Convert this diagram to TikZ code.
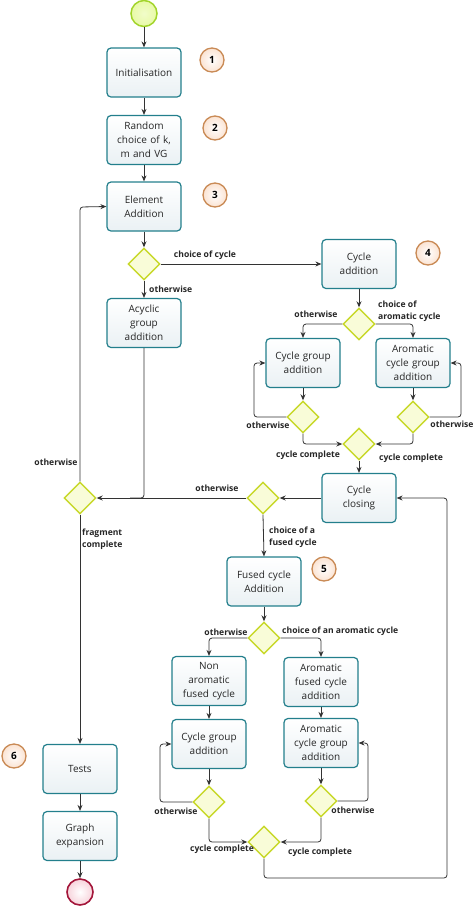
\documentclass[tikz,border=0pt]{standalone}
\usepackage{fontspec}
\setmainfont{Open Sans}
\usetikzlibrary{shapes.geometric,arrows.meta,positioning}
\definecolor{boxline}{HTML}{237F8C}
\definecolor{boxfill}{HTML}{EAF1F4}
\definecolor{dialine}{HTML}{C8D82A}
\definecolor{diafill}{HTML}{F9FCD8}
\definecolor{startline}{HTML}{A2D42A}
\definecolor{startfill}{HTML}{E8FAA6}
\definecolor{endline}{HTML}{A3163A}
\definecolor{endfill}{HTML}{F7D3DB}
\definecolor{badgeline}{HTML}{C98A55}
\definecolor{badgefill}{HTML}{FBE3D2}
\definecolor{conn}{HTML}{333333}
\tikzset{
  x=1pt, y=-1pt,
  taskbox/.style={draw=boxline, line width=1.2pt, rounded corners=4pt,
    top color=white, bottom color=boxfill, minimum width=74pt, minimum height=49pt,
    text width=70pt, align=center, inner sep=1pt, text=black!85,
    font=\fontsize{10}{14}\selectfont},
  gate/.style={diamond, draw=dialine, line width=1.4pt, fill=diafill,
    minimum width=32pt, minimum height=32pt, inner sep=0pt},
  badge/.style={circle, draw=badgeline, line width=1.3pt, inner color=white, outer color=badgefill,
    minimum size=24pt, inner sep=0pt, font=\bfseries\fontsize{10}{12}\selectfont},
  lab/.style={font=\bfseries\fontsize{8.6}{12}\selectfont, text=black!85, inner sep=0pt},
  flow/.style={draw=conn, line width=0.8pt, rounded corners=3pt, -{Stealth[length=6pt,width=5pt]}},
  plain/.style={draw=conn, line width=0.8pt, rounded corners=3pt},
}
\begin{document}
\begin{tikzpicture}
\useasboundingbox (0,0) rectangle (474,906);
% events
\node[circle, draw=startline, line width=1.5pt, inner color=white!40!startfill, outer color=startfill, minimum size=26pt, inner sep=0pt] (start) at (144,13.5) {};
\node[circle, draw=endline, line width=1.6pt, inner color=white, outer color=endfill, minimum size=26pt, inner sep=0pt] (end) at (80,892) {};
% tasks
\node[taskbox] (init) at (144,72.5) {Initialisation};
\node[taskbox] (rand) at (144,140) {Random\\choice of k,\\m and VG};
\node[taskbox] (elem) at (144,206.5) {Element\\Addition};
\node[taskbox] (acyc) at (144,323) {Acyclic\\group\\addition};
\node[taskbox] (cyc) at (359,264) {Cycle\\addition};
\node[taskbox] (cga) at (303,363) {Cycle group\\addition};
\node[taskbox] (acga) at (413,363) {Aromatic\\cycle group\\addition};
\node[taskbox] (close) at (359,498) {Cycle\\closing};
\node[taskbox] (fused) at (264,581.5) {Fused cycle\\Addition};
\node[taskbox] (naf) at (209,681) {Non\\aromatic\\fused cycle};
\node[taskbox] (afa) at (321,682) {Aromatic\\fused cycle\\addition};
\node[taskbox] (cgb) at (209,744) {Cycle group\\addition};
\node[taskbox] (acgb) at (321,743) {Aromatic\\cycle group\\addition};
\node[taskbox] (tests) at (80,769) {Tests};
\node[taskbox] (graph) at (80,836) {Graph\\expansion};
% gateways
\node[gate] (d1) at (144,264) {};
\node[gate] (d2) at (359,324) {};
\node[gate] (d3) at (303,417) {};
\node[gate] (d4) at (413,417) {};
\node[gate] (d5) at (359,444) {};
\node[gate] (d6) at (263,498) {};
\node[gate] (d7) at (80,498) {};
\node[gate] (d8) at (264,638) {};
\node[gate] (d9) at (209,802) {};
\node[gate] (d10) at (321,801) {};
\node[gate] (d11) at (264,842) {};
% badges
\node[badge] (b1) at (212,60) {1};
\node[badge] (b2) at (215,128) {2};
\node[badge] (b3) at (215,195) {3};
\node[badge] (b4) at (428,253) {4};
\node[badge] (b5) at (324,569) {5};
\node[badge] (b6) at (14,756) {6};
% helper coordinates
\coordinate (l1) at (80,207);
\coordinate (j1) at (144,498);
\coordinate (lp1) at (254,417);
\coordinate (lp1t) at (254,363);
\coordinate (lp2) at (461,417);
\coordinate (lp2t) at (461,363);
\coordinate (lp3) at (160,802);
\coordinate (lp3t) at (160,744);
\coordinate (lp4) at (368,801);
\coordinate (lp4t) at (368,743);
\coordinate (r1) at (264,878);
\coordinate (r2) at (447,878);
\coordinate (r3) at (447,498);
% connectors
\draw[flow] (start) -- (init);
\draw[flow] (init) -- (rand);
\draw[flow] (rand) -- (elem);
\draw[flow] (elem) -- (d1);
\draw[flow] (d1.east) -- (cyc.west);
\draw[flow] (d1.south) -- (acyc.north);
\draw[flow] (cyc.south) -- (d2.north);
\draw[flow] (d2.west) -| (cga.north);
\draw[flow] (d2.east) -| (acga.north);
\draw[flow] (cga.south) -- (d3.north);
\draw[flow] (acga.south) -- (d4.north);
\draw[flow] (d3.west) -- (lp1) -- (lp1t) -- (cga.west);
\draw[flow] (d4.east) -- (lp2) -- (lp2t) -- (acga.east);
\draw[flow] (d3.south) |- (d5.west);
\draw[flow] (d4.south) |- (d5.east);
\draw[flow] (d5.south) -- (close.north);
\draw[flow] (close.west) -- (d6.east);
\draw[flow] (d6.west) -- (d7.east);
\draw[plain] (acyc.south) -- (j1) -- (130,498);
\draw[flow] (d7.north) -- (l1) -- (elem.west);
\draw[flow] (d7.south) -- (tests.north);
\draw[flow] (d6.south) -- (fused.north);
\draw[flow] (fused.south) -- (d8.north);
\draw[flow] (d8.west) -| (naf.north);
\draw[flow] (d8.east) -| (afa.north);
\draw[flow] (naf) -- (cgb);
\draw[flow] (afa) -- (acgb);
\draw[flow] (cgb.south) -- (d9.north);
\draw[flow] (acgb.south) -- (d10.north);
\draw[flow] (d9.west) -- (lp3) -- (lp3t) -- (cgb.west);
\draw[flow] (d10.east) -- (lp4) -- (lp4t) -- (acgb.east);
\draw[flow] (d9.south) |- (d11.west);
\draw[flow] (d10.south) |- (d11.east);
\draw[flow] (d11.south) -- (r1) -- (r2) -- (r3) -- (close.east);
\draw[flow] (tests) -- (graph);
\draw[flow] (graph) -- (end);
% labels
\node[lab] (t1) at (205,255) {choice of cycle};
\node[lab, anchor=west] (t2) at (149,289) {otherwise};
\node[lab] (t3) at (316,314) {otherwise};
\node[lab, anchor=west, align=left] (t4) at (378,311) {choice of\\aromatic cycle};
\node[lab] (t5) at (268,425) {otherwise};
\node[lab] (t6) at (452,424) {otherwise};
\node[lab] (t7) at (308,455) {cycle complete};
\node[lab] (t8) at (411,458) {cycle complete};
\node[lab] (t9) at (217,488) {otherwise};
\node[lab] (t10) at (56,462) {otherwise};
\node[lab, anchor=west, align=left] (t11) at (82,539) {fragment\\complete};
\node[lab, anchor=west, align=left] (t12) at (269,537) {choice of a\\fused cycle};
\node[lab] (t13) at (226,632) {otherwise};
\node[lab, anchor=west] (t14) at (282,631) {choice of an aromatic cycle};
\node[lab] (t15) at (176,811) {otherwise};
\node[lab] (t16) at (353,810) {otherwise};
\node[lab] (t17) at (222,849) {cycle complete};
\node[lab] (t18) at (320,852) {cycle complete};
\end{tikzpicture}
\end{document}
